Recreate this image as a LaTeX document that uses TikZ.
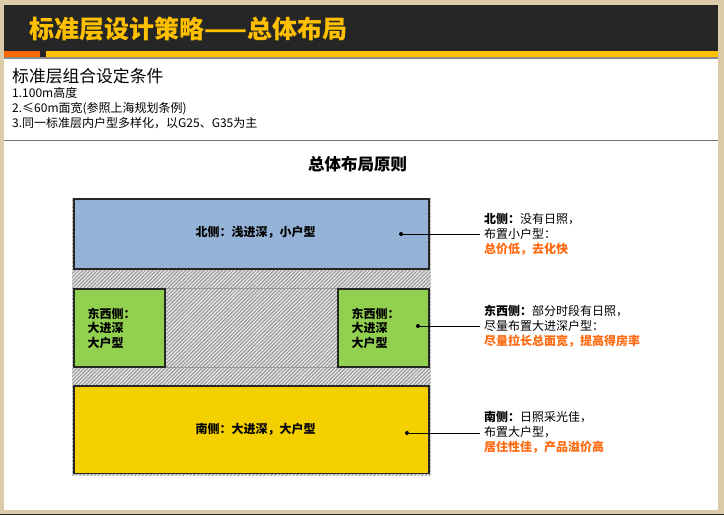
\documentclass[tikz,border=0pt]{standalone}
\usepackage{fontspec}
\setmainfont{Noto Sans CJK SC}
\usepackage{xcolor}
\usetikzlibrary{patterns.meta}
\definecolor{framebeige}{HTML}{DCCBA9}
\definecolor{headdark}{HTML}{262626}
\definecolor{headyellow}{HTML}{FFC000}
\definecolor{headorange}{HTML}{F96800}
\definecolor{northblue}{HTML}{95B3D7}
\definecolor{sidegreen}{HTML}{92D050}
\definecolor{southyellow}{HTML}{F5D000}
\definecolor{noteorange}{HTML}{FF6A10}
\tikzstyle{room}=[draw=black!85, line width=1.5pt, outer sep=0pt, inner sep=0pt, anchor=north west]
\tikzstyle{roomtext}=[font=\fontsize{12}{14.5}\selectfont\bfseries, align=left, inner sep=0pt]
\tikzstyle{note}=[font=\fontsize{12}{14.8}\selectfont, align=left, anchor=west, inner sep=0pt]
\tikzstyle{dot}=[circle, fill=black, inner sep=0pt, minimum size=4pt]
\tikzstyle{hatch}=[pattern={Lines[angle=45,distance=2.6pt,line width=1pt]}, pattern color=black!42]
\begin{document}
\begin{tikzpicture}[x=1pt,y=-1pt]
\useasboundingbox (0,0) rectangle (724,515);
\fill[framebeige] (0,0) rectangle (724,515);
\fill[white] (4,5) rectangle (718,510);
\fill[black!85] (0,513.5) rectangle (724,515);
% header
\fill[headdark] (4,5) rectangle (718,57);
\fill[headorange] (4,50.5) rectangle (40,57);
\fill[headyellow] (45.5,50.5) rectangle (718,57);
\fill[black!45] (4,57) rectangle (718,58.5);
\node[font=\fontsize{25}{25}\selectfont\bfseries, text=headyellow, anchor=west, inner sep=0pt] (title) at (29,29) {标准层设计策略——总体布局};
% conditions
\node[font=\fontsize{16.8}{20}\selectfont, anchor=west, inner sep=0pt] (cond) at (12,76) {标准层组合设定条件};
\node[font=\fontsize{12}{14.6}\selectfont, anchor=north west, align=left, inner sep=0pt] (condlist) at (12,87.5) {1.100m高度\\2.≤60m面宽(参照上海规划条例)\\3.同一标准层内户型多样化，以G25、G35为主};
\draw[black!55, line width=.8pt] (4,140.5) -- (718,140.5);
\node[font=\fontsize{16.5}{20}\selectfont\bfseries, inner sep=0pt] (head) at (357.5,164) {总体布局原则};
% plan
\fill[black!10] (72,198) rectangle (430.5,475);
\fill[hatch] (72,198) rectangle (430.5,475);
\draw[black!40, line width=.7pt] (165,288) -- (338,288) (165,367) -- (338,367);
\node[room, fill=northblue, minimum width=355pt, minimum height=70pt] (north) at (74,199) {};
\node[room, fill=sidegreen, minimum width=91pt, minimum height=78pt] (west) at (74,289) {};
\node[room, fill=sidegreen, minimum width=91pt, minimum height=78pt] (east) at (338,289) {};
\node[room, fill=southyellow, minimum width=355pt, minimum height=87.5pt] (south) at (74,386) {};
\node[roomtext] at (255.5,232) {北侧：浅进深，小户型};
\node[roomtext, anchor=west] at (87.5,328) {东西侧：\\大进深\\大户型};
\node[roomtext, anchor=west] at (351.5,328) {东西侧：\\大进深\\大户型};
\node[roomtext] at (255.5,429) {南侧：大进深，大户型};
% notes
\node[dot] (d1) at (401,234) {};
\node[dot] (d2) at (418,326) {};
\node[dot] (d3) at (407,433) {};
\coordinate (e1) at (480,234);
\coordinate (e2) at (480,326);
\coordinate (e3) at (480,433);
\draw[line width=.8pt] (d1) -- (e1);
\draw[line width=.8pt] (d2) -- (e2);
\draw[line width=.8pt] (d3) -- (e3);
\node[note] (n1) at (484,234.5) {\textbf{北侧：}没有日照，\\布置小户型：\\\textcolor{noteorange}{\bfseries 总价低，去化快}};
\node[note] (n2) at (484,326) {\textbf{东西侧：}部分时段有日照，\\尽量布置大进深户型：\\\textcolor{noteorange}{\bfseries 尽量拉长总面宽，提高得房率}};
\node[note] (n3) at (484,432.5) {\textbf{南侧：}日照采光佳，\\布置大户型，\\\textcolor{noteorange}{\bfseries 居住性佳，产品溢价高}};
\end{tikzpicture}
\end{document}
